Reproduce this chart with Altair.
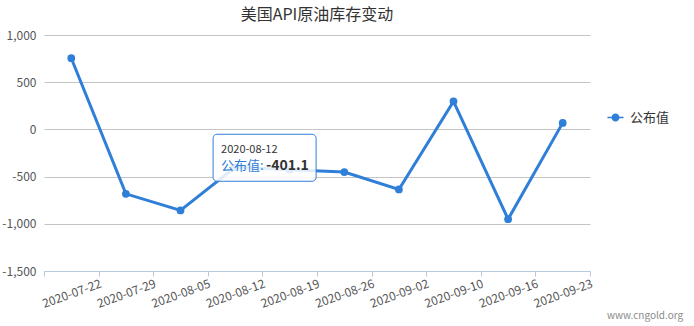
import altair as alt
import pandas as pd

dates = ['2020-07-22', '2020-07-29', '2020-08-05', '2020-08-12', '2020-08-19',
         '2020-08-26', '2020-09-02', '2020-09-10', '2020-09-16', '2020-09-23']
values = [754.4, -682.9, -858.7, -401.1, -426.4, -452.0, -636.0, 297.0, -951.7, 69.1]
series_name = '公布值'
title_text = '美国API原油库存变动'
hover_date = '2020-08-12'
watermark = 'www.cngold.org'

df = pd.DataFrame({
    'date': dates,
    'val': values,
    'series': [series_name] * len(dates),
})
df['idx'] = [i + 0.5 for i in range(len(dates))]

FONT = 'Noto Sans CJK SC'
BLUE = '#2f7ed8'
n = len(dates)
label_arr = '[' + ','.join("'" + d + "'" for d in dates) + ']'

x_enc = alt.X('idx:Q', scale=alt.Scale(domain=[0, n], nice=False, zero=False),
              axis=alt.Axis(values=list(range(0, n + 1)), title=None, grid=False,
                            labelExpr=f"datum.value >= 1 ? {label_arr}[datum.value - 1] : ''",
                            labelAngle=-20, labelAlign='right', labelBaseline='top',
                            labelPadding=2, labelFont=FONT, labelFontSize=12,
                            labelColor='#555', domainColor='#b7c9dd', tickColor='#b7c9dd',
                            tickSize=5, labelOverlap=False, labelBound=False, labelFlush=False))
y_enc = alt.Y('val:Q', scale=alt.Scale(domain=[-1500, 1000], nice=False),
              axis=alt.Axis(values=[-1500, -1000, -500, 0, 500, 1000], title=None,
                            labelExpr="replace(format(datum.value, ','), '\u2212', '-')",
                            domain=False, ticks=False, labelPadding=8, labelFont=FONT,
                            labelFontSize=12, labelColor='#555', gridColor='#c4c4c4'))

legend_symbol = ('M-1,-0.1H1V0.1H-1Z '
                 'M0.5,0A0.5,0.5 0 1,1 -0.5,0A0.5,0.5 0 1,1 0.5,0Z')

line = alt.Chart(df).mark_line(strokeWidth=3, point=alt.OverlayMarkDef(size=60, filled=True, opacity=1)).encode(
    x=x_enc, y=y_enc,
    color=alt.Color('series:N', scale=alt.Scale(range=[BLUE]),
                    legend=alt.Legend(title=None, orient='none', legendX=563, legendY=74,
                                      symbolType=legend_symbol, symbolSize=260,
                                      symbolStrokeWidth=0, labelFont=FONT, labelFontSize=13,
                                      labelColor='#333', labelOffset=6)),
)

hover = alt.Chart(df).transform_filter(alt.datum.date == hover_date)

box = hover.mark_rect(fill='white', fillOpacity=0.85, stroke=BLUE, strokeWidth=1,
                      cornerRadius=4, xOffset=-22, x2Offset=81, yOffset=-33, y2Offset=14).encode(
    x='idx:Q', x2='idx:Q', y='val:Q', y2='val:Q')

t_date = hover.mark_text(align='left', baseline='middle', dx=-14, dy=-17, font=FONT,
                         fontSize=11, color='#333').encode(x='idx:Q', y='val:Q', text='date:N')
t_name = hover.mark_text(align='left', baseline='middle', dx=-14, dy=-1, font=FONT,
                         fontSize=13, color=BLUE).encode(
    x='idx:Q', y='val:Q', text=alt.Text('label:N')).transform_calculate(label="datum.series + ':'")
t_val = hover.mark_text(align='left', baseline='middle', dx=31, dy=-1, font=FONT,
                        fontSize=14, fontWeight='bold', color='#333').encode(
    x='idx:Q', y='val:Q', text=alt.Text('vtxt:N')).transform_calculate(
    vtxt="replace(format(datum.val, '.1f'), '\u2212', '-')")

wm = alt.Chart(pd.DataFrame({'t': [watermark]})).mark_text(
    align='left', baseline='middle', font=FONT, fontSize=10, color='#8a8a8a').encode(
    x=alt.value(563), y=alt.value(281), text='t:N')

chart = alt.layer(line, box, t_date, t_name, t_val, wm).properties(
    width=546, height=236,
    background='white',
    title=alt.TitleParams(title_text, font=FONT, fontSize=16, fontWeight='normal',
                          color='#333', anchor='middle', offset=6),
    autosize=alt.AutoSizeParams(type='none'),
    padding={'left': 44, 'top': 35, 'right': 104, 'bottom': 55},
).configure_view(strokeOpacity=0, strokeWidth=0)

chart.save('out.html', embed_options={'renderer': 'svg', 'actions': False})
